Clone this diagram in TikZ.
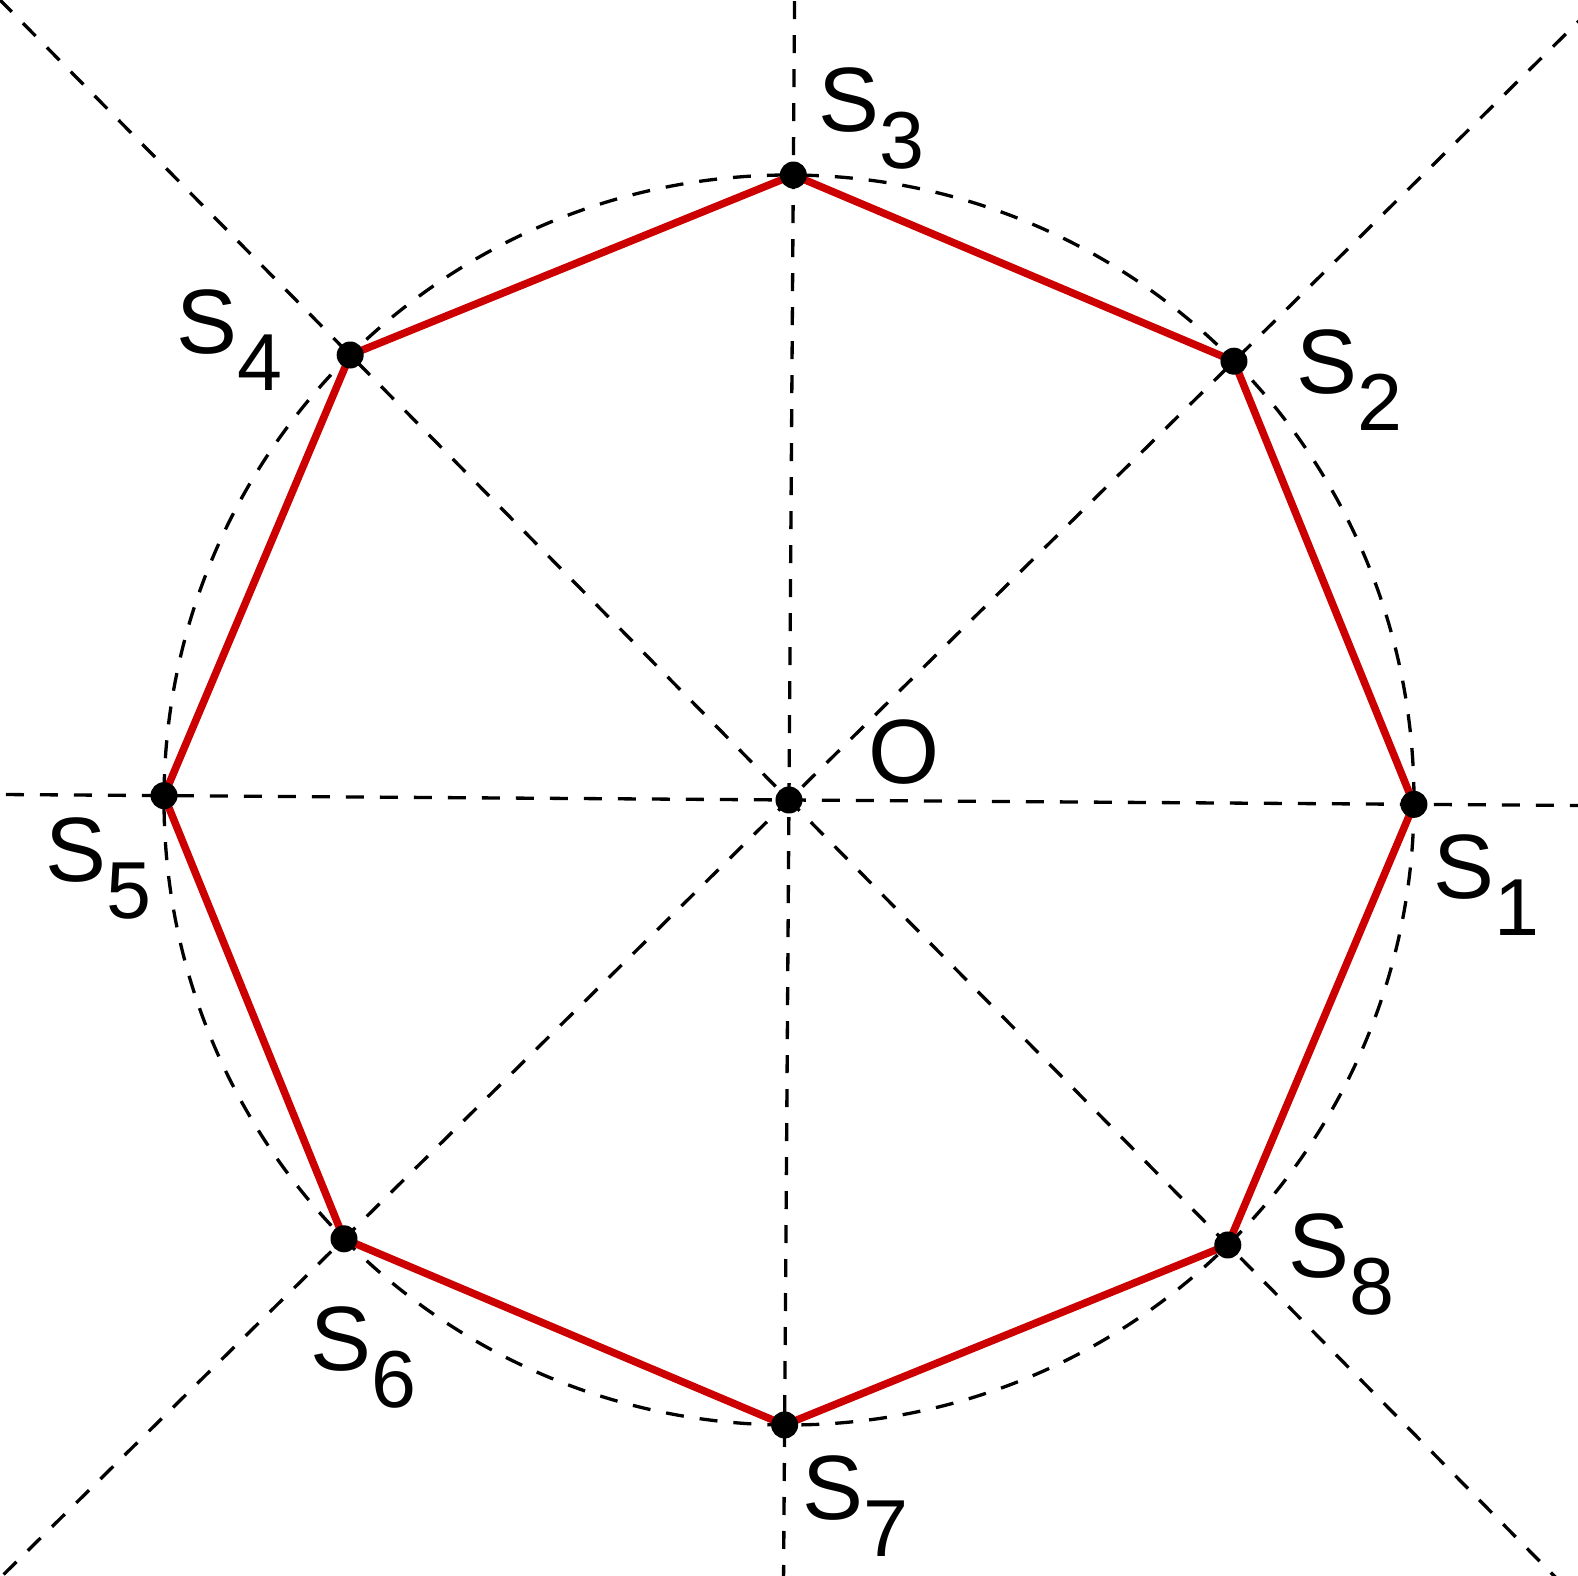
\documentclass[tikz,border=0pt]{standalone}
\usepackage{fontspec}
\setmainfont{Liberation Sans}
\usetikzlibrary{backgrounds}
\definecolor{octred}{RGB}{204,0,0}
\tikzset{
  dot/.style={circle,fill=black,inner sep=0pt,minimum size=0.27cm},
  guide/.style={dash pattern=on 0.18cm off 0.16cm,line width=0.033cm},
  side/.style={draw=octred,line width=0.075cm,line join=round},
  lbl/.style={inner sep=0pt,anchor=base west,font=\fontsize{26}{30}\selectfont}
}
\newcommand{\lowidx}[1]{\raisebox{-0.37cm}{\fontsize{23}{26}\selectfont #1}}

\begin{document}
\begin{tikzpicture}
\useasboundingbox (-7.89,-7.76) rectangle (7.89,8.00);
\node[dot] (O) at (0,0) {};
\node[dot] (S1) at (-0.4:6.25) {};
\node[dot] (S2) at (44.6:6.25) {};
\node[dot] (S3) at (89.6:6.25) {};
\node[dot] (S4) at (134.6:6.25) {};
\node[dot] (S5) at (179.6:6.25) {};
\node[dot] (S6) at (224.6:6.25) {};
\node[dot] (S7) at (269.6:6.25) {};
\node[dot] (S8) at (314.6:6.25) {};
\node[lbl] (LO) at (0.79,0.16) {O};
\node[lbl] (L1) at (6.44,-0.99) {S\lowidx{1}};
\node[lbl] (L2) at (5.07,4.06) {S\lowidx{2}};
\node[lbl] (L3) at (0.29,6.68) {S\lowidx{3}};
\node[lbl] (L4) at (-6.13,4.46) {S\lowidx{4}};
\node[lbl] (L5) at (-7.44,-0.82) {S\lowidx{5}};
\node[lbl] (L6) at (-4.79,-5.71) {S\lowidx{6}};
\node[lbl] (L7) at (0.13,-7.19) {S\lowidx{7}};
\node[lbl] (L8) at (4.99,-4.78) {S\lowidx{8}};
\begin{scope}[on background layer]
\clip (-7.89,-7.76) rectangle (7.89,8.00);
\draw[guide] (O.center) circle (6.25);
\draw[guide,shorten <=-4.8cm,shorten >=-4.8cm] (S1.center) -- (S5.center);
\draw[guide,shorten <=-5cm,shorten >=-5cm] (S2.center) -- (S6.center);
\draw[guide,shorten <=-4.8cm,shorten >=-4.8cm] (S3.center) -- (S7.center);
\draw[guide,shorten <=-5cm,shorten >=-5cm] (S4.center) -- (S8.center);
\draw[side] (S1.center) -- (S2.center) -- (S3.center) -- (S4.center) -- (S5.center) -- (S6.center) -- (S7.center) -- (S8.center) -- cycle;
\end{scope}
\end{tikzpicture}
\end{document}
